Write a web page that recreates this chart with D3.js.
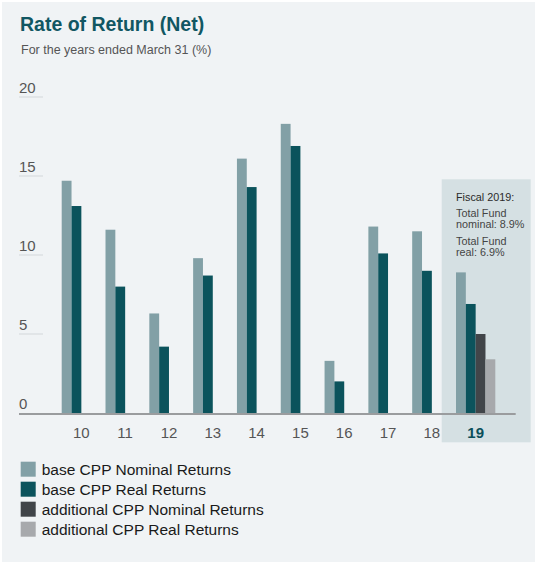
<!DOCTYPE html>
<html><head><meta charset="utf-8">
<script src="https://cdn.jsdelivr.net/npm/d3@7"></script>
<style>
html,body{margin:0;padding:0;background:#fff;}
svg{display:block;font-family:"Liberation Sans",Arial,sans-serif;}
</style></head>
<body>
<svg id="c" width="537" height="564"></svg>
<script>
const years = ["10","11","12","13","14","15","16","17","18","19"];
const baseNominal = [14.7, 11.6, 6.3, 9.8, 16.1, 18.3, 3.3, 11.8, 11.5, 8.9];
const baseReal    = [13.1, 8.0, 4.2, 8.7, 14.3, 16.9, 2.0, 10.1, 9.0, 6.9];
const addNominal  = [null,null,null,null,null,null,null,null,null,5.0];
const addReal     = [null,null,null,null,null,null,null,null,null,3.4];
const seriesNames = ["base CPP Nominal Returns","base CPP Real Returns","additional CPP Nominal Returns","additional CPP Real Returns"];
const seriesColors = ["#82a0a6","#0b535c","#414549","#a7a9ac"];
const yTicks = [0,5,10,15,20];
const noteLines = ["Fiscal 2019:","Total Fund","nominal: 8.9%","Total Fund","real: 6.9%"];

const seriesData = [baseNominal, baseReal, addNominal, addReal];
const svg = d3.select("#c");

svg.append("rect").attr("x",2).attr("y",2).attr("width",533).attr("height",560).attr("fill","#f0f3f5");

svg.append("text").attr("x",20).attr("y",31).attr("fill","#115763")
  .attr("font-size",19.5).attr("font-weight","bold").text("Rate of Return (Net)");
svg.append("text").attr("x",21).attr("y",54).attr("fill","#555")
  .attr("font-size",12.5).text("For the years ended March 31 (%)");

const y = d3.scaleLinear().domain([0,20]).range([413,97]);
const x = d3.scaleBand().domain(years).range([61.7,495.3]).paddingInner(0.103).paddingOuter(0);
const xs = d3.scaleBand().domain(d3.range(4)).range([0,x.bandwidth()]);

// highlight box for 2019
const hx = x("19");
svg.append("rect").attr("x",hx-14.3).attr("y",179.3).attr("width",89).attr("height",263)
  .attr("fill","#d5e0e3");

// y ticks
const yt = svg.append("g");
yTicks.forEach(t=>{
  if(t>0) yt.append("line").attr("x1",19).attr("x2",43).attr("y1",y(t)).attr("y2",y(t))
    .attr("stroke","#d3d7da").attr("stroke-width",1);
  yt.append("text").attr("x",19).attr("y",y(t)-4).attr("fill","#555").attr("font-size",15).text(t);
});

// bars
const g = svg.append("g");
seriesData.forEach((arr,si)=>{
  g.selectAll(null).data(years.map((yr,i)=>({yr,v:arr[i]})).filter(d=>d.v!=null))
   .enter().append("rect")
   .attr("x",d=>x(d.yr)+xs(si)).attr("width",xs.bandwidth())
   .attr("y",d=>y(d.v)).attr("height",d=>y(0)-y(d.v))
   .attr("fill",seriesColors[si]);
});

// baseline
svg.append("line").attr("x1",19).attr("x2",515.7).attr("y1",414).attr("y2",414)
  .attr("stroke","#9a9c9e").attr("stroke-width",2);

// x labels
svg.selectAll(".xl").data(years).enter().append("text")
  .attr("x",d=>x(d)+x.bandwidth()/2).attr("y",437.5).attr("text-anchor","middle")
  .attr("font-size",15)
  .attr("font-weight",d=>d==="19"?"bold":"normal")
  .attr("fill",d=>d==="19"?"#0b4f5a":"#555").text(d=>d);

// note
const noteY = [200.5,216.5,227.5,245,255.5];
noteLines.forEach((t,i)=>{
  svg.append("text").attr("x",456).attr("y",noteY[i]).attr("font-size",10.8)
    .attr("fill",i===0?"#2a2a2a":"#444").text(t);
});

// legend
const lg = svg.append("g");
seriesNames.forEach((n,i)=>{
  const ty = 461.7 + i*20;
  lg.append("rect").attr("x",20.7).attr("y",ty).attr("width",15).attr("height",15).attr("fill",seriesColors[i]);
  lg.append("text").attr("x",41.7).attr("y",ty+13).attr("font-size",15.5).attr("fill","#1a1a1a").text(n);
});
</script>
</body></html>
